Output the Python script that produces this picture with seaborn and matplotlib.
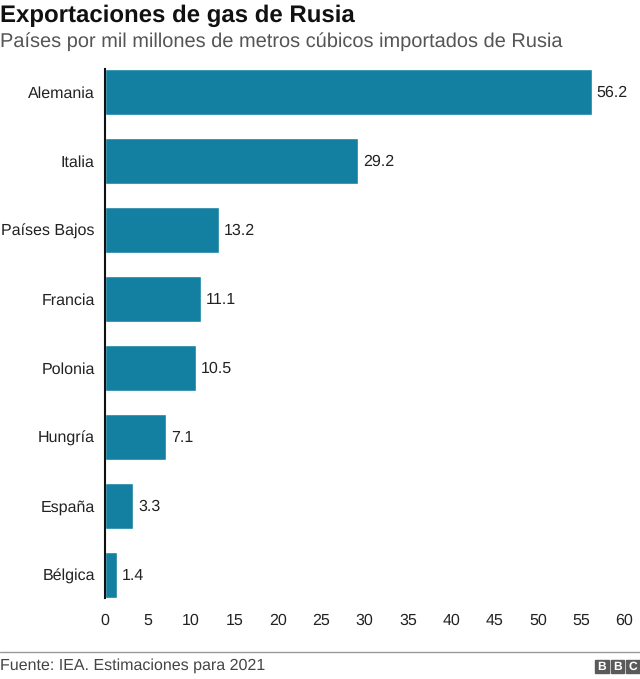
import matplotlib
matplotlib.use("Agg")
import matplotlib.pyplot as plt
import seaborn as sns
import pandas as pd

countries = ["Alemania", "Italia", "Países Bajos", "Francia", "Polonia", "Hungría", "España", "Bélgica"]
values = [56.2, 29.2, 13.2, 11.1, 10.5, 7.1, 3.3, 1.4]
xticks = list(range(0, 65, 5))
title = "Exportaciones de gas de Rusia"
subtitle = "Países por mil millones de metros cúbicos importados de Rusia"
source = "Fuente: IEA. Estimaciones para 2021"

sns.set_style("white")
plt.rcParams['font.family'] = ['Liberation Sans', 'DejaVu Sans']
plt.rcParams['text.hinting'] = 'no_hinting'
plt.rcParams['text.hinting_factor'] = 1
W, H = 640, 679
fig = plt.figure(figsize=(W/100, H/100), dpi=100)
ax = fig.add_axes([104.5/W, 1-598/H, (624-104)/W, (598-69)/H])
df = pd.DataFrame({"c": countries, "v": values})
sns.barplot(data=df, x="v", y="c", color="#1380A1", saturation=1, width=0.667, ax=ax, orient="h")
ax.set_xlim(0, 60)
ax.set_ylim(7.333, -0.333)
ax.set_xlabel(""); ax.set_ylabel("")
ax.set_xticks(xticks)
for s in ["top", "right", "bottom"]:
    ax.spines[s].set_visible(False)
ax.spines["left"].set_color("#111111")
ax.spines["left"].set_linewidth(1.5)
ax.spines["left"].set_zorder(5)
ax.tick_params(axis="y", length=0, labelsize=11.85, labelcolor="#222222", pad=7)
ax.tick_params(axis="x", length=0, labelsize=11.85, labelcolor="#222222", pad=11)
for i, v in enumerate(values):
    ax.annotate(f"{v}", (v, i), xytext=(3.8, -0.7), textcoords="offset points", va="center", ha="left", fontsize=11.85, color="#222222")
fig.text(0/W, 1-16/H, title, fontsize=17.3, fontweight="bold", color="#111111", va="center")
fig.text(0/W, 1-41.5/H, subtitle, fontsize=14.5, color="#555555", va="center")
fig.add_artist(plt.Line2D([0, 1], [1-652/H, 1-652/H], color="#999999", lw=1))
fig.text(0/W, 1-665.5/H, source, fontsize=11.6, color="#444444", va="center")
# BBC logo
for i, ch in enumerate("BBC"):
    x0 = 595 + i*15.5
    fig.add_artist(plt.Rectangle((x0/W, 1-673/H), 13.5/W, 13/H, transform=fig.transFigure, color="#5a5a5a"))
    fig.text((x0+6.75)/W, 1-666.5/H, ch, fontsize=8.5, fontweight="bold", color="white", ha="center", va="center")
fig.savefig("out.png", dpi=100)
